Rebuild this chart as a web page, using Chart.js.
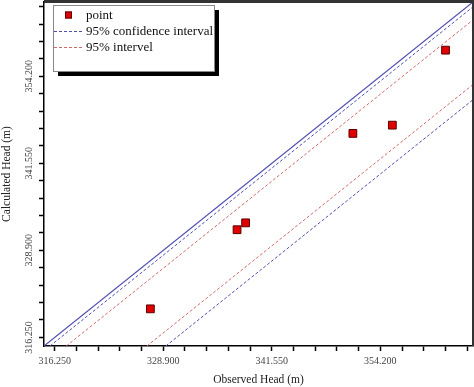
<!DOCTYPE html>
<html><head><meta charset="utf-8">
<script src="https://cdn.jsdelivr.net/npm/chart.js@4/dist/chart.umd.min.js"></script>
<style>html,body{margin:0;padding:0;background:#fff}#wrap{width:474px;height:387px;position:relative}</style>
</head><body><div id="wrap"><canvas id="c" width="474" height="387"></canvas></div>
<script>
// Observed vs calculated points
const observed   = [327.4, 337.5, 338.5, 351.0, 355.6, 361.8];
const calculated = [320.4, 331.9, 332.9, 345.9, 347.1, 358.0];
// Line endpoints
const fitX = [315, 365],        fitY = [315, 365];
const confUpperX = [315.7, 365], confUpperY = [315, 364.3];
const confLowerX = [329.2, 365], confLowerY = [315, 350.8];
const predUpperX = [317.6, 365], predUpperY = [315, 362.4];
const predLowerX = [327.0, 365], predLowerY = [315, 353.0];
// Axis ticks
const tickValues = [316.25,318.78,321.31,323.84,326.37,328.9,331.43,333.96,336.49,339.02,341.55,344.08,346.61,349.14,351.67,354.2,356.73,359.26,361.79,364.32];
const labelValues = [316.25, 328.9, 341.55, 354.2];
const tickLabels = ['316.250','328.900','341.550','354.200'];
const axisMin = 315, axisMax = 365;

const BLUE = '#4f4fb0', RED = '#d26a6a';
const pts = (xs, ys) => xs.map((x, i) => ({x, y: ys[i]}));
function labelFor(v){ const i = labelValues.findIndex(l => Math.abs(l - v) < 0.01); return i >= 0 ? tickLabels[i] : ''; }
const serif = "'Liberation Serif','Times New Roman',serif";

const datasets = [
  {type:'scatter', label:'point', data: pts(observed, calculated), pointStyle:'rect', pointRadius:5.5, pointHoverRadius:5.5,
   backgroundColor:'#e00000', borderColor:'#5a0000', borderWidth:1, legend:true},
  {type:'line', data: pts(fitX, fitY), borderColor: BLUE, borderWidth:1.2, pointRadius:0, fill:false},
  {type:'line', label:'95% confidence interval', data: pts(confUpperX, confUpperY), borderColor: BLUE, borderWidth:1, borderDash:[3,2], pointRadius:0, fill:false, legend:true},
  {type:'line', data: pts(confLowerX, confLowerY), borderColor: BLUE, borderWidth:1, borderDash:[3,2], pointRadius:0, fill:false},
  {type:'line', label:'95% intervel', data: pts(predUpperX, predUpperY), borderColor: RED, borderWidth:1, borderDash:[3,2], pointRadius:0, fill:false, legend:true},
  {type:'line', data: pts(predLowerX, predLowerY), borderColor: RED, borderWidth:1, borderDash:[3,2], pointRadius:0, fill:false}
];

const decor = {
  id:'decor',
  afterDraw(chart){
    const ctx = chart.ctx, a = chart.chartArea, ys = chart.scales.y;
    ctx.save();
    // frame top/right
    ctx.strokeStyle = '#333'; ctx.lineWidth = 3;
    ctx.beginPath(); ctx.moveTo(a.left, a.top - 0.5); ctx.lineTo(a.right + 0.5, a.top - 0.5); ctx.lineTo(a.right + 0.5, a.bottom); ctx.stroke();
    // y tick labels (rotated)
    ctx.fillStyle = '#444'; ctx.font = '10px ' + serif; ctx.textAlign = 'center'; ctx.textBaseline = 'middle';
    labelValues.forEach((v, i) => {
      const py = ys.getPixelForValue(v);
      ctx.save(); ctx.translate(29, py); ctx.rotate(-Math.PI/2); ctx.fillText(tickLabels[i], 0, 0); ctx.restore();
    });
    // legend
    const bx = 53, by = 5, bw = 161, bh = 66;
    ctx.fillStyle = '#000'; ctx.fillRect(bx + 5, by + 5, bw, bh);
    ctx.fillStyle = '#fff'; ctx.fillRect(bx, by, bw, bh);
    ctx.strokeStyle = '#888'; ctx.lineWidth = 1; ctx.strokeRect(bx + 0.5, by + 0.5, bw, bh);
    const items = chart.data.datasets.filter(d => d.legend);
    const rowsY = [15, 31, 47];
    ctx.font = '13px ' + serif; ctx.textAlign = 'left'; ctx.textBaseline = 'middle';
    items.forEach((d, i) => {
      const y = rowsY[i];
      if (d.type === 'scatter') {
        ctx.fillStyle = d.backgroundColor; ctx.strokeStyle = d.borderColor; ctx.lineWidth = 1;
        ctx.fillRect(65, y - 3.5, 7, 7); ctx.strokeRect(65.5, y - 3, 6, 6);
      } else {
        ctx.strokeStyle = d.borderColor; ctx.lineWidth = 1; ctx.setLineDash([3,2]);
        ctx.beginPath(); ctx.moveTo(54, y + 0.5); ctx.lineTo(84, y + 0.5); ctx.stroke(); ctx.setLineDash([]);
      }
      ctx.fillStyle = '#111'; ctx.fillText(d.label, 86, y + 1);
    });
    ctx.restore();
  }
};

new Chart(document.getElementById('c'), {
  data: { datasets },
  options: {
    responsive:false, animation:false,
    layout:{ autoPadding:false, padding:{ top:2, right:1, left:0, bottom:0 } },
    plugins:{ legend:{display:false}, tooltip:{enabled:false} },
    scales:{
      x:{ type:'linear', min:axisMin, max:axisMax,
        afterBuildTicks: s => { s.ticks = tickValues.map(v => ({value:v})); },
        afterFit: s => { s.height = 41; s.paddingLeft = 0; s.paddingRight = 0; },
        grid:{ drawOnChartArea:false, drawTicks:true, tickLength:5, tickColor:'#000', tickWidth:1.5 },
        border:{ color:'#000', width:1.5 },
        ticks:{ autoSkip:false, maxRotation:0, minRotation:0, padding:4, color:'#444', font:{family:serif, size:10},
          callback: v => labelFor(v) },
        title:{ display:true, text:'Observed Head (m)', color:'#222', font:{family:serif, size:11.5}, padding:{top:0,bottom:0} }
      },
      y:{ type:'linear', min:axisMin, max:axisMax,
        afterBuildTicks: s => { s.ticks = tickValues.map(v => ({value:v})); },
        afterFit: s => { s.width = 44; s.paddingTop = 0; s.paddingBottom = 0; },
        grid:{ drawOnChartArea:false, drawTicks:true, tickLength:5, tickColor:'#000', tickWidth:1.5 },
        border:{ color:'#000', width:1.5 },
        ticks:{ display:false, autoSkip:false },
        title:{ display:true, text:'Calculated Head (m)', color:'#222', font:{family:serif, size:11.5}, padding:{top:0,bottom:0} }
      }
    }
  },
  plugins:[decor]
});
</script></body></html>
